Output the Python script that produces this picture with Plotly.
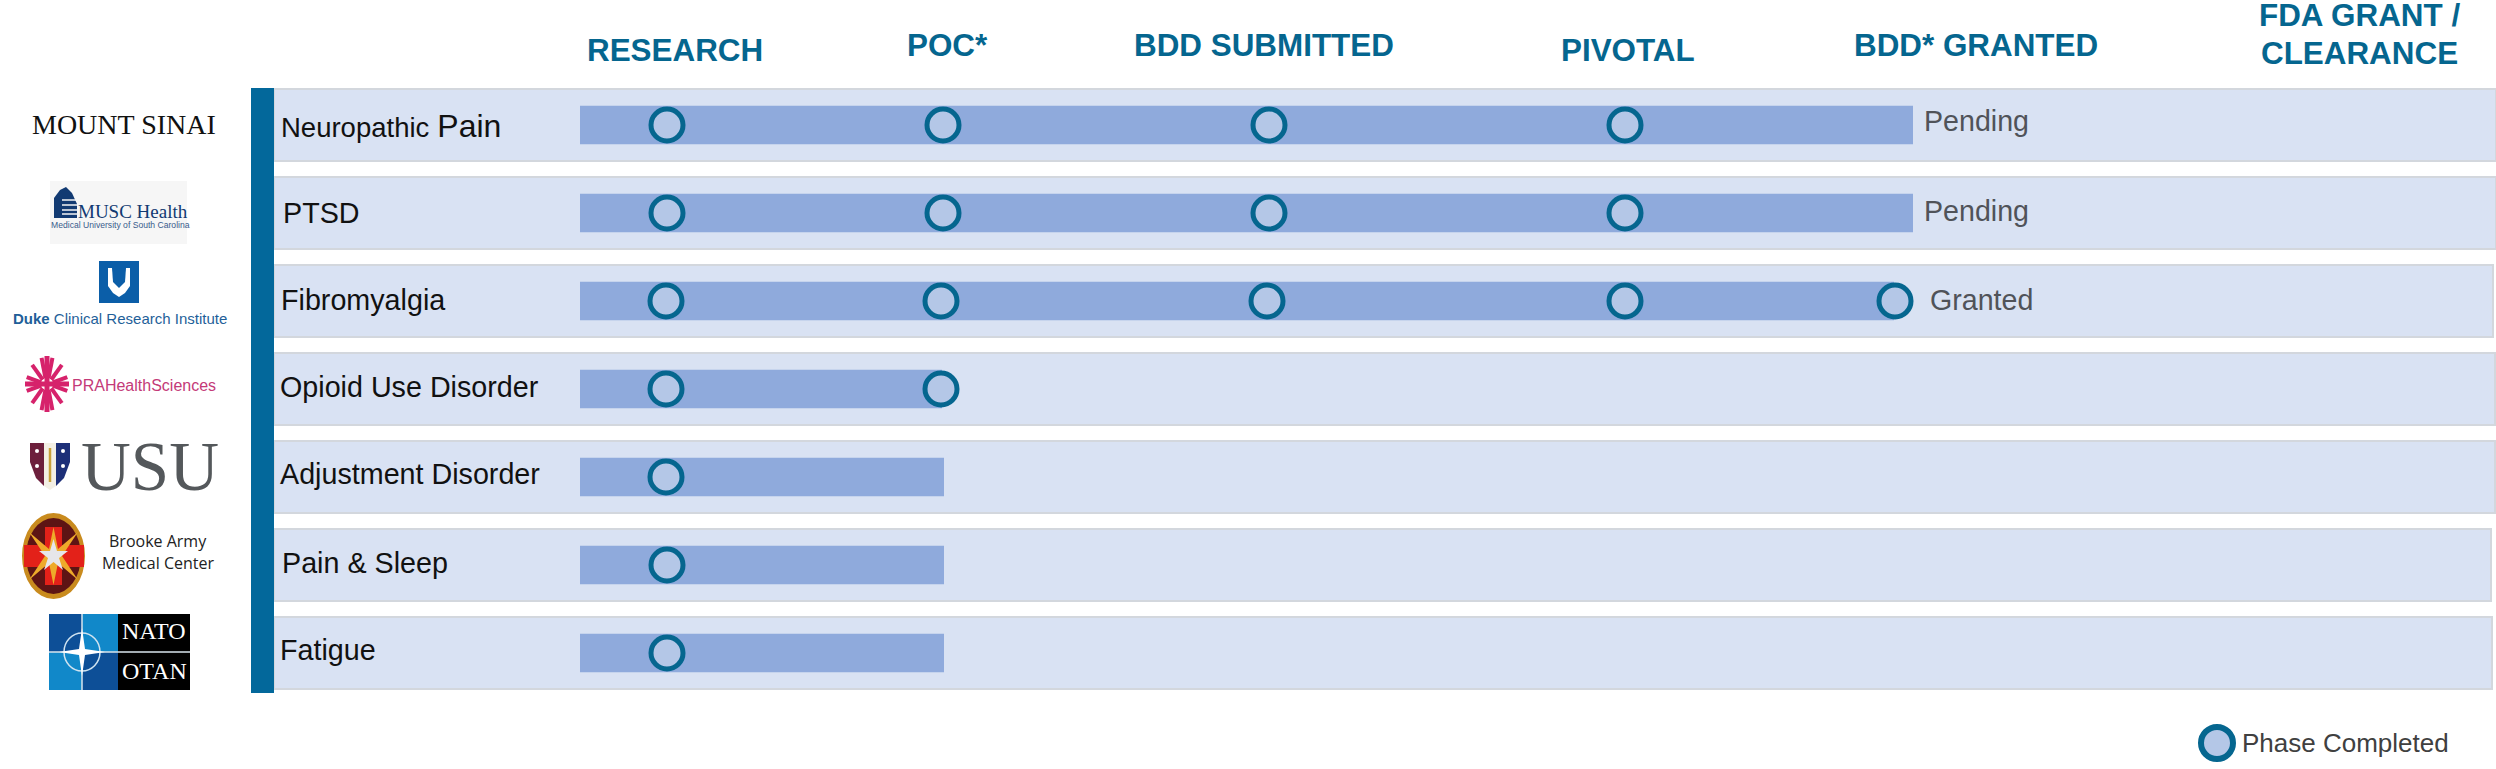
import math
import plotly.graph_objects as go

W, H = 2496, 769

# ---- data ----
conditions = ["Neuropathic Pain", "PTSD", "Fibromyalgia", "Opioid Use Disorder",
              "Adjustment Disorder", "Pain & Sleep", "Fatigue"]
band_start = 274
band_end = [2496, 2496, 2493, 2495, 2495, 2491, 2492]
progress_start = 580
progress_end = [1913, 1913, 1894, 942, 944, 944, 944]
phases_completed = [
    [667, 943, 1269, 1625],
    [667, 943, 1269, 1625],
    [666, 941, 1267, 1625, 1895],
    [666, 941],
    [666],
    [667],
    [667],
]
status_labels = ["Pending", "Pending", "Granted", "", "", "", ""]
status_x = [1922, 1922, 1928, 0, 0, 0, 0]
label_x = [279, 281, 279, 278, 278, 280, 278]
phase_names = ["RESEARCH", "POC*", "BDD SUBMITTED", "PIVOTAL", "BDD* GRANTED",
               "FDA GRANT /<br>CLEARANCE"]
phase_x = [675, 947, 1264, 1628, 1976, 2359]
phase_y = [50, 45, 45, 50, 45, 34.5]

# ---- colours ----
TEAL = "#05668f"
BAND = "#d9e2f3"
BAR = "#8faadc"
FILL = "#b4c7e7"
FONT = "Liberation Sans"
SERIF = "Liberation Serif"

fig = go.Figure()
fig.add_trace(go.Bar(y=conditions, x=[e - band_start for e in band_end], base=band_start,
                     orientation="h", width=0.82, marker=dict(color=BAND, line=dict(color="#d3d7dd", width=2)),
                     hoverinfo="skip", name="Band"))
fig.add_trace(go.Bar(y=conditions, x=[e - progress_start for e in progress_end], base=progress_start,
                     orientation="h", width=0.44, marker=dict(color=BAR, line=dict(width=0)),
                     name="Progress"))
mx, my = [], []
for c, xs in zip(conditions, phases_completed):
    mx += xs
    my += [c] * len(xs)
fig.add_trace(go.Scatter(x=mx, y=my, mode="markers", name="Phase Completed",
                         marker=dict(size=32, color=FILL, line=dict(color=TEAL, width=5))))

ann, shp = [], []
def py(p):
    return 1 - p / H

def text(x, y, s, size, color="#111111", family=FONT, anchor="center", **kw):
    ann.append(dict(x=x, y=py(y), xref="x", yref="paper", text=s, showarrow=False, xanchor=anchor,
                    yanchor="middle", align="center", font=dict(size=size, color=color, family=family),
                    **kw))

def rect(x0, y0, x1, y1, color, line=None, lw=0):
    shp.append(dict(type="rect", xref="x", yref="paper", x0=x0, x1=x1, y0=py(y1), y1=py(y0),
                    fillcolor=color, line=dict(color=line or color, width=lw), layer="above"))

def oval(x0, y0, x1, y1, color, line=None, lw=0):
    shp.append(dict(type="circle", xref="x", yref="paper", x0=x0, x1=x1, y0=py(y1), y1=py(y0),
                    fillcolor=color, line=dict(color=line or color, width=lw), layer="above"))

def poly(pts, color):
    d = "M" + " L".join(f"{x},{py(y):.5f}" for x, y in pts) + " Z"
    shp.append(dict(type="path", xref="x", yref="paper", path=d, fillcolor=color,
                    line=dict(width=0), layer="above"))

def seg(x0, y0, x1, y1, color, lw):
    shp.append(dict(type="line", xref="x", yref="paper", x0=x0, x1=x1, y0=py(y0), y1=py(y1),
                    line=dict(color=color, width=lw), layer="above"))

# side strip
rect(251, 88, 274, 693, "#03689b")

# headers (multi-line ones are split so the tighter line gap of the reference holds)
for n, x, y in zip(phase_names, phase_x, phase_y):
    lines = n.split("<br>")
    for i, line in enumerate(lines):
        text(x, y + (i - (len(lines) - 1) / 2) * 37, f"<b>{line}</b>", 31.4, TEAL)

# row labels
centers = [126, 213, 300, 387, 474, 563, 650]
for c, x, cy in zip(conditions, label_x, centers):
    s = c
    if c == "Neuropathic Pain":
        s = "<span style='font-size:27.5px'>Neuropathic</span> <span style='font-size:32px'>Pain</span>"
    text(x, cy, s, 28.7, "#111111", anchor="left")

# status labels
for s, x, cy in zip(status_labels, status_x, [121, 211, 300, 0, 0, 0, 0]):
    if s:
        text(x, cy, s, 28.6, "#505359", anchor="left")

# legend
oval(2201, 727, 2233, 759, FILL, TEAL, 6)
text(2240, 743, "Phase Completed", 26, "#404040", anchor="left")

# --- logos ---
# Mount Sinai
text(124, 124, "MOUNT SINAI", 28, "#111111", SERIF)
# MUSC
rect(50, 181, 187, 244, "#f6f6f6")
poly([(54, 218), (54, 198), (60, 190), (66, 187), (72, 193), (77, 204), (77, 218)], "#123a72")
for y in [200, 205, 210, 214]:
    seg(62, y, 77, y, "#f6f6f6", 1.5)
text(133, 211, "MUSC Health", 19, "#123a72", SERIF)
text(120, 225, "Medical University of South Carolina", 8.6, "#3a5c8c", FONT)
# Duke
rect(99, 261, 139, 303, "#0b5ea8")
poly([(108, 268), (130, 268), (130, 286), (125, 293), (119, 297), (113, 293), (108, 286)], "#ffffff")
poly([(112, 268), (126, 268), (125, 282), (119, 288), (113, 282)], "#0b5ea8")
text(119.5, 319, "<b>Duke</b> Clinical Research Institute", 15, "#1f5f99")
# PRA
cx, cy = 47, 384
for i in range(12):
    a = math.radians(i * 30 + 15)
    seg(cx + 6 * math.cos(a), cy + 6 * math.sin(a), cx + 21 * math.cos(a), cy + 27 * math.sin(a), "#d6226b", 4)
seg(cx - 22, cy, cx + 22, cy, "#d6226b", 5)
seg(cx, cy - 28, cx, cy + 28, "#d6226b", 5)
text(144, 385, "PRAHealthSciences", 16, "#c43a78")
# USU
poly([(30, 443), (44, 443), (44, 486), (36, 478), (30, 462)], "#6d1f3c")
poly([(44, 443), (56, 443), (56, 486), (50, 490), (44, 486)], "#f3efe4")
poly([(56, 443), (70, 443), (70, 462), (64, 478), (56, 486)], "#1d2f78")
seg(50, 448, 50, 482, "#c9a13a", 2.5)
for sx, sy in [(37, 451), (37, 466), (63, 451), (63, 466)]:
    oval(sx - 2, sy - 2, sx + 2, sy + 2, "#ffffff")
text(150, 467, "USU", 69, "#54585b", SERIF)
# Brooke Army
oval(22, 513, 85, 599, "#c98b1e")
oval(26, 518, 81, 594, "#5d1414")
rect(45, 527, 62, 585, "#e32119")
rect(24, 545, 84, 567, "#e32119")
poly([(53.5, 527), (58, 549), (78, 532), (62, 556), (78, 580), (58, 563), (53.5, 585),
      (49, 563), (29, 580), (45, 556), (29, 532), (49, 549)], "#eeaa2a")
poly([(53.5, 539), (57, 551), (68, 551), (59, 558), (63, 570), (53.5, 562), (44, 570),
      (48, 558), (39, 551), (50, 551)], "#e6e6ea")
text(158, 541, "Brooke Army", 16, "#222222", "Open Sans")
text(158, 563, "Medical Center", 16, "#222222", "Open Sans")
# NATO
rect(49, 614, 118, 690, "#0d4f97")
rect(82, 614, 118, 652, "#1188c9")
rect(49, 652, 82, 690, "#1188c9")
rect(118, 614, 190, 690, "#000000")
seg(49, 652, 190, 652, "#d8e4ec", 1.5)
seg(82, 614, 82, 690, "#d8e4ec", 1.5)
oval(64, 633, 100, 671, "rgba(0,0,0,0)", "#cfe3f0", 1.5)
poly([(82, 628), (85, 649), (105, 652), (85, 655), (82, 676), (79, 655), (59, 652), (79, 649)], "#ffffff")
text(154, 631, "NATO", 24, "#ffffff", SERIF)
text(154, 671, "OTAN", 24, "#ffffff", SERIF)

fig.update_layout(
    width=W, height=H, margin=dict(l=0, r=0, t=0, b=0, pad=0, autoexpand=False),
    paper_bgcolor="#ffffff", plot_bgcolor="#ffffff", showlegend=False, barmode="overlay",
    xaxis=dict(range=[0, W], visible=False, fixedrange=True),
    yaxis=dict(type="category", categoryorder="array", categoryarray=conditions,
               range=[(H - 125) / 88, -125 / 88], visible=False, fixedrange=True),
    annotations=ann, shapes=shp,
)
fig.write_html("out.html", config=dict(displayModeBar=False),
               post_script="document.body.style.margin='0';document.documentElement.style.overflow='hidden';")
